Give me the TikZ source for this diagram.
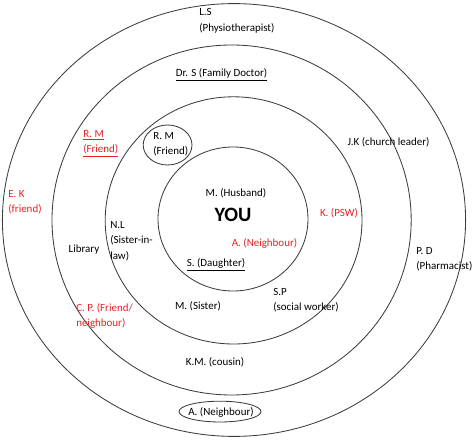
\documentclass[tikz,border=0pt]{standalone}
\usepackage{fontspec}
\setmainfont{Carlito}
\usepackage{xcolor}
\definecolor{ecored}{RGB}{232,32,38}
\definecolor{ecoline}{RGB}{60,60,60}
\usepackage{tikz}
\usetikzlibrary{positioning}

\begin{document}
\begin{tikzpicture}[
    ring/.style={draw=ecoline, line width=0.6pt},
    lbl/.style={font=\fontsize{7.8}{11}\selectfont, text=black, align=left, inner sep=0pt},
    redlbl/.style={lbl, text=ecored}
  ]
  \useasboundingbox (-5.85,-5.5) rectangle (6.0,5.5);

  % Rings, from the outside in
  \draw[ring] (0,0) ellipse (5.79 and 5.41);
  \draw[ring] (-0.06,0) ellipse (4.49 and 4.375);
  \draw[ring] (-0.01,-0.01) ellipse (3.21 and 3.09);
  \draw[ring] (-0.025,0.025) ellipse (1.875 and 1.8);

  % Centre
  \node[font=\fontsize{14.5}{16}\selectfont\bfseries] (you) at (-0.025,0.125) {YOU};
  \node[lbl] (husband) at (0.05,0.675) {M. (Husband)};
  \node[redlbl] (neighA) at (0.7625,-0.575) {A. (Neighbour)};
  \node[lbl] (daughter) at (-0.45,-1.125) {\underline{S. (Daughter)}};

  % Second ring
  \node[redlbl] (psw) at (2.625,0.175) {K. (PSW)};
  \node[lbl, anchor=west] (sisinlaw) at (-3.1,-0.525) {N.L\\(Sister-in-\\law)};
  \node[lbl, anchor=west] (socwork) at (0.975,-2.0) {S.P\\(social worker)};
  \node[lbl] (sister) at (-0.9,-2.15) {M. (Sister)};
  \node[lbl, anchor=west] (rmin) at (-2.025,1.89) {R. M\\(Friend)};
  \draw[ring] (-1.66,1.875) ellipse (0.61 and 0.5);

  % Third ring
  \node[lbl] (doctor) at (-0.31,3.625) {\underline{Dr. S (Family Doctor)}};
  \node[redlbl, anchor=west] (rmout) at (-3.775,1.9125) {\underline{R. M}\\\underline{(Friend)}};
  \node[lbl] (church) at (3.8625,1.95) {J.K (church leader)};
  \node[lbl] (library) at (-3.75,-0.75) {Library};
  \node[redlbl, anchor=west] (cp) at (-3.95,-2.4) {C. P. (Friend/\\neighbour)};
  \node[lbl] (cousin) at (-0.475,-3.55) {K.M. (cousin)};

  % Outer ring
  \node[lbl, anchor=west] (physio) at (-0.875,4.975) {L.S\\(Physiotherapist)};
  \node[redlbl, anchor=west] (ek) at (-5.65,0.45) {E. K\\(friend)};
  \node[lbl, anchor=west] (pharm) at (4.55,-0.9875) {P. D\\(Pharmacist)};
  \node[lbl] (neighB) at (-0.325,-4.8) {A. (Neighbour)};
  \draw[ring] (-0.35,-4.79) ellipse (1.025 and 0.26);
\end{tikzpicture}
\end{document}
